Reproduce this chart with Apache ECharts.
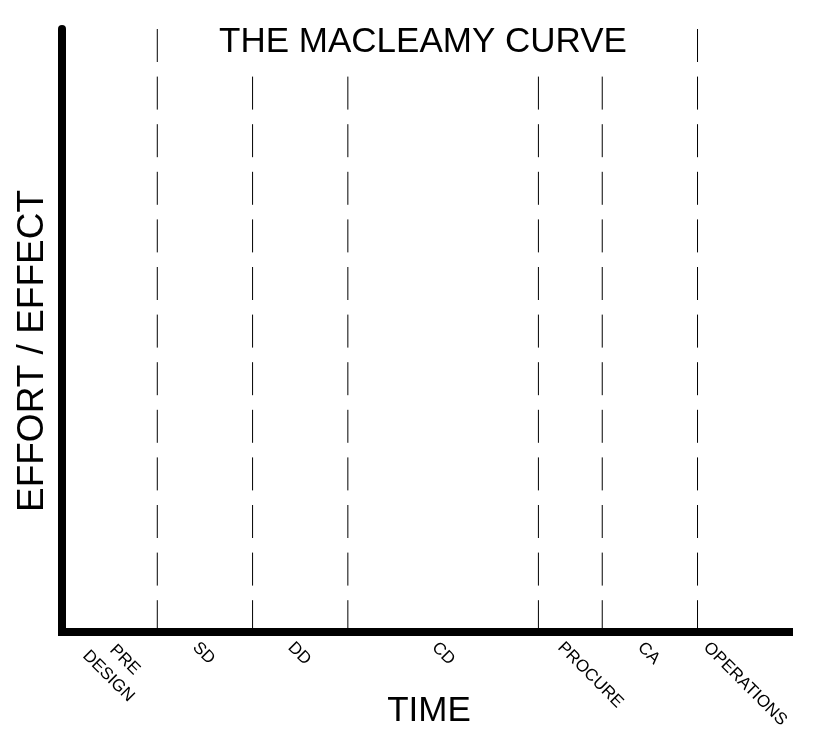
<!DOCTYPE html>
<html>
<head>
<meta charset="utf-8">
<script src="https://cdn.jsdelivr.net/npm/echarts@6/dist/echarts.min.js"></script>
<style>html,body{margin:0;padding:0;background:#fff}#c{width:819px;height:756px}</style>
</head>
<body>
<div id="c"></div>
<script>
const chartTitle = 'THE MACLEAMY CURVE';
const xName = 'TIME';
const yName = 'EFFORT / EFFECT';
const phaseNames = ['PRE\nDESIGN', 'SD', 'DD', 'CD', 'PROCURE', 'CA', 'OPERATIONS'];
const phaseLabelAt = [0.33, 1.40, 2.40, 3.91, 5.23, 6.07, 6.76];
const phaseBoundaries = [1, 2, 3, 5, 5.67, 6.67];
const timeMax = 7.63;

const FONT = '"Liberation Sans", Arial, sans-serif';

function labelFor(v) {
  let best = 0, bd = Infinity;
  phaseLabelAt.forEach((p, i) => { const d = Math.abs(p - v); if (d < bd) { bd = d; best = i; } });
  const name = phaseNames[best];
  if (name.indexOf('\n') >= 0) {
    return name.split('\n').map(s => '{c|' + s + '}').join('\n');
  }
  return '{s|' + name + '}';
}

const chart = echarts.init(document.getElementById('c'), null, {renderer: 'canvas'});
chart.setOption({
  backgroundColor: '#ffffff',
  animation: false,
  title: {
    text: chartTitle,
    left: 413,
    textAlign: 'center',
    top: 19,
    padding: [6, 10, 8, 10],
    backgroundColor: '#ffffff',
    textStyle: {fontFamily: FONT, fontSize: 35, fontWeight: 'normal', color: '#000'}
  },
  grid: {left: 62, right: 30, top: 29, bottom: 124, containLabel: false, outerBoundsMode: 'none'},
  xAxis: {
    type: 'value',
    min: 0,
    max: timeMax,
    name: xName,
    nameLocation: 'middle',
    nameGap: 62,
    nameMoveOverlap: false,
    nameTextStyle: {fontFamily: FONT, fontSize: 35, color: '#000', padding: [0, 0, 0, 7]},
    axisLine: {show: true, onZero: false, lineStyle: {color: '#000', width: 8, cap: 'square'}},
    axisTick: {show: false},
    splitLine: {show: false},
    axisLabel: {
      show: true,
      customValues: phaseLabelAt,
      rotate: -45,
      margin: 13,
      color: '#000',
      fontFamily: FONT,
      fontSize: 17,
      hideOverlap: false,
      formatter: labelFor,
      rich: {
        c: {align: 'center', fontFamily: FONT, fontSize: 17, lineHeight: 23, color: '#000'},
        s: {fontFamily: FONT, fontSize: 17, color: '#000'}
      }
    }
  },
  yAxis: {
    type: 'value',
    min: 0,
    max: 1,
    name: yName,
    nameLocation: 'middle',
    nameRotate: 90,
    nameGap: 11,
    nameMoveOverlap: false,
    nameTextStyle: {fontFamily: FONT, fontSize: 37, color: '#000', padding: [0, 41, 0, 0]},
    axisLine: {show: true, lineStyle: {color: '#000', width: 8}},
    axisTick: {show: false},
    axisLabel: {show: false},
    splitLine: {show: false}
  },
  series: phaseBoundaries.map(b => ({
    type: 'line',
    data: [[b, 1], [b, 0]],
    symbol: 'none',
    silent: true,
    z: 1,
    lineStyle: {color: '#000', width: 1, type: [33, 14.6]}
  }))
});
</script>
</body>
</html>
